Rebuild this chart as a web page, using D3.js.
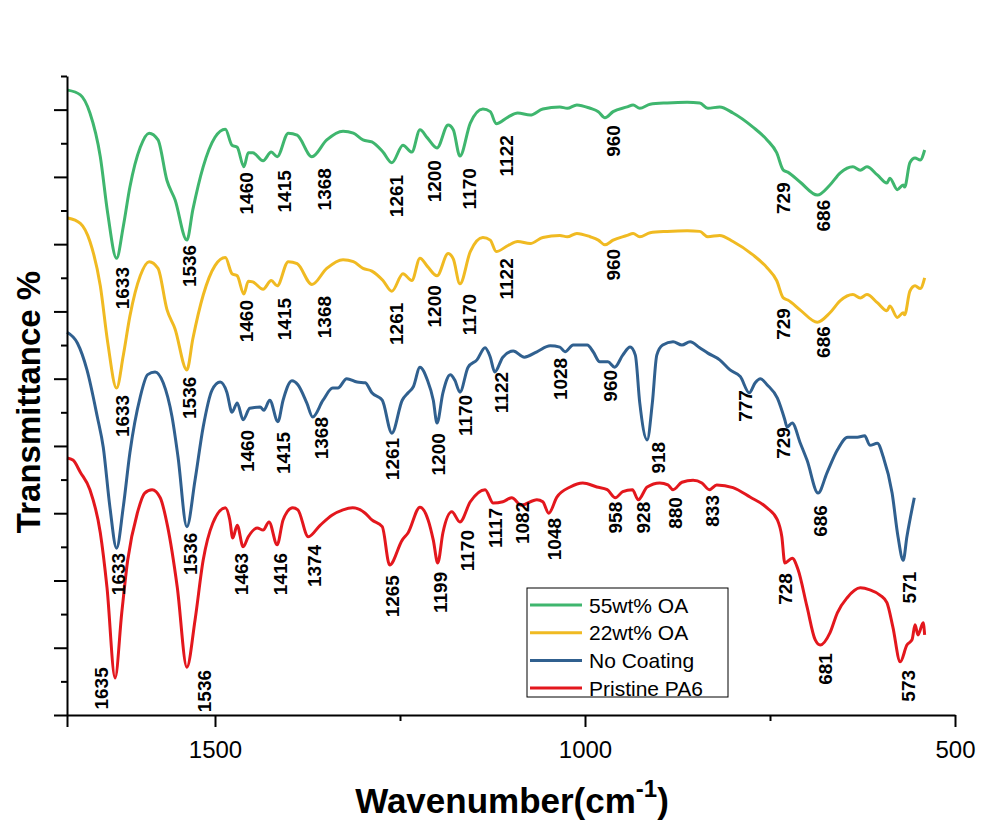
<!DOCTYPE html>
<html>
<head>
<meta charset="utf-8">
<script src="https://cdn.jsdelivr.net/npm/d3@7"></script>
<style>
  body { margin: 0; background: #fff; }
  svg { font-family: "Liberation Sans", Arial, sans-serif; }
  .axis path, .axis line { stroke: #000; stroke-width: 2; }
  .axis text { font-size: 24px; fill: #000; }
  .peak { font-size: 19px; font-weight: bold; fill: #000; }
</style>
</head>
<body>
<script>
var w = 995;
var h = 825;

// legend names + colours
var seriesNames = ["55wt% OA", "22wt% OA", "No Coating", "Pristine PA6"];
var seriesColors = ["#3fb66e", "#f0ba22", "#30608f", "#e3171d"];

// x ticks
var xMajor = [1700, 1500, 1000, 500];
var xMinor = [1250, 750];
var xLabels = ["", "1500", "1000", "500"];

// y ticks (no labels on the original)
var yMajor = [0, 10, 20, 30, 40, 50, 60, 70, 80, 90];
var yMinor = [5, 15, 25, 35, 45, 55, 65, 75, 85, 95];

// spectra: [wavenumber, transmittance]
var oa55 = [[1699,92.9],[1682,92.2],[1669,89.5],[1655,83.0],[1645,74.6],[1633,67.9],[1624,72.6],[1615,78.5],[1601,84.4],[1589,86.5],[1577,85.5],[1565,79.5],[1554,76.6],[1538,70.6],[1530,75.1],[1516,81.5],[1500,85.9],[1486,87.1],[1477,84.7],[1470,84.4],[1461,81.5],[1455,83.6],[1449,83.6],[1435,82.4],[1424,83.7],[1416,83.0],[1401,86.5],[1389,86.2],[1369,83.0],[1349,85.5],[1327,86.8],[1313,86.5],[1300,85.5],[1288,85.2],[1273,83.7],[1261,82.1],[1246,84.7],[1234,83.7],[1223,87.0],[1213,85.8],[1200,84.3],[1185,87.7],[1178,87.0],[1169,83.1],[1155,88.0],[1138,90.1],[1128,89.7],[1120,87.9],[1104,88.9],[1091,89.5],[1074,89.2],[1057,90.1],[1034,90.4],[1024,90.2],[1011,90.7],[993,90.2],[982,89.7],[973,88.8],[962,89.7],[943,90.4],[935,90.7],[926,90.2],[912,90.8],[889,91.0],[862,91.1],[845,91.0],[834,90.2],[818,90.4],[800,89.5],[773,87.4],[754,85.5],[741,83.6],[732,81.0],[726,80.7],[709,79.2],[686,77.3],[669,78.8],[655,80.6],[638,81.5],[628,81.0],[619,81.5],[605,80.3],[592,79.1],[588,79.8],[578,78.1],[570,78.8],[568,78.5],[561,82.1],[554,82.8],[547,82.5],[541,84.0]];

var oa22 = [[1699,73.9],[1682,73.1],[1669,70.4],[1655,63.8],[1645,55.4],[1633,48.6],[1624,53.4],[1615,59.3],[1601,65.3],[1589,67.4],[1577,66.4],[1565,60.3],[1554,57.4],[1538,51.3],[1530,55.9],[1516,62.4],[1500,66.8],[1486,68.0],[1477,65.6],[1470,65.3],[1461,62.6],[1455,64.5],[1449,64.4],[1435,63.3],[1424,64.6],[1416,63.8],[1401,67.4],[1389,67.1],[1369,64.0],[1349,66.4],[1327,67.7],[1313,67.4],[1300,66.4],[1288,66.0],[1273,64.6],[1261,63.0],[1246,65.6],[1234,64.6],[1223,67.9],[1213,66.7],[1200,65.3],[1185,68.6],[1178,67.8],[1169,64.1],[1155,68.9],[1138,71.0],[1128,70.6],[1120,68.9],[1104,69.8],[1091,70.4],[1074,70.1],[1057,71.0],[1034,71.3],[1024,71.1],[1011,71.6],[993,71.1],[982,70.6],[973,69.9],[962,70.6],[943,71.3],[935,71.6],[926,71.1],[912,71.7],[889,71.9],[862,72.0],[845,71.9],[834,71.1],[818,71.3],[800,70.4],[773,68.4],[754,66.5],[741,64.6],[732,62.0],[726,61.7],[709,60.2],[686,58.4],[669,59.8],[655,61.6],[638,62.5],[628,62.0],[619,62.5],[605,61.3],[592,60.1],[588,60.8],[578,59.1],[570,59.8],[568,59.5],[561,63.0],[554,63.8],[547,63.4],[541,65.0]];

var noCoating = [[1700,56.9],[1686,55.3],[1673,51.3],[1659,44.3],[1651,39.8],[1642,30.9],[1633,24.8],[1624,30.9],[1615,39.0],[1601,47.3],[1591,50.6],[1581,51.0],[1570,49.4],[1558,44.3],[1550,38.4],[1538,28.0],[1527,34.9],[1516,42.8],[1504,48.3],[1493,49.5],[1484,48.0],[1477,45.0],[1470,46.4],[1462,43.9],[1453,45.6],[1439,45.8],[1434,45.3],[1426,46.8],[1415,43.6],[1408,46.8],[1396,49.7],[1388,49.1],[1376,46.4],[1368,44.3],[1354,46.8],[1341,48.6],[1334,48.6],[1322,50.0],[1308,49.5],[1297,49.4],[1288,47.9],[1274,46.8],[1261,41.9],[1247,46.8],[1239,47.9],[1232,48.8],[1223,51.7],[1213,49.8],[1205,46.8],[1200,43.4],[1192,47.9],[1182,50.6],[1176,49.8],[1169,48.0],[1158,51.7],[1146,52.8],[1135,54.6],[1128,53.2],[1122,51.0],[1111,53.2],[1097,54.1],[1082,53.2],[1065,54.0],[1047,54.9],[1034,54.7],[1027,54.0],[1016,55.0],[997,55.0],[989,54.0],[980,52.5],[969,52.5],[960,51.7],[949,53.5],[939,54.7],[932,53.5],[926,46.4],[916,40.9],[909,46.4],[903,53.5],[895,55.0],[881,55.5],[869,55.0],[858,55.5],[845,54.6],[834,53.8],[818,52.8],[804,51.3],[790,50.3],[778,47.9],[770,49.4],[763,50.0],[754,49.1],[740,47.1],[730,43.9],[727,42.8],[720,43.4],[709,40.4],[700,37.9],[685,33.0],[673,36.0],[659,39.4],[645,41.3],[632,41.3],[622,41.5],[615,40.1],[605,40.4],[597,38.4],[585,33.0],[577,26.5],[570,23.0],[565,26.5],[555,32.3]];

var pristine = [[1700,38.2],[1692,37.9],[1682,36.1],[1669,33.5],[1655,27.1],[1646,19.0],[1635,5.5],[1626,15.2],[1618,23.0],[1605,30.0],[1595,33.0],[1585,33.5],[1574,32.3],[1564,28.0],[1551,19.0],[1538,7.1],[1527,14.1],[1516,23.0],[1503,28.5],[1486,30.8],[1480,29.0],[1476,26.3],[1470,28.2],[1462,25.0],[1455,26.5],[1443,27.8],[1435,27.5],[1427,28.7],[1416,25.3],[1408,29.0],[1395,30.8],[1388,30.5],[1374,26.5],[1358,28.2],[1342,29.7],[1327,30.5],[1314,30.8],[1297,30.0],[1288,29.0],[1274,28.0],[1264,22.3],[1247,26.0],[1239,27.1],[1223,30.9],[1212,29.0],[1205,26.0],[1199,22.6],[1192,27.1],[1180,30.2],[1169,28.7],[1155,31.7],[1135,33.5],[1124,31.5],[1111,31.7],[1099,32.3],[1086,31.2],[1065,32.0],[1057,31.7],[1049,30.0],[1038,32.4],[1020,33.9],[1003,34.5],[984,33.9],[970,33.5],[959,32.3],[949,33.2],[936,33.5],[928,32.0],[916,33.9],[899,34.5],[888,34.2],[881,33.5],[869,34.6],[854,34.9],[842,34.5],[832,33.5],[822,34.2],[800,33.8],[777,32.4],[754,30.8],[740,29.0],[734,26.5],[730,22.6],[720,23.3],[712,21.6],[700,16.1],[689,11.2],[682,10.4],[669,12.2],[659,15.2],[646,17.4],[628,18.9],[615,18.6],[601,17.8],[592,16.7],[584,13.1],[574,7.9],[565,10.4],[558,11.2],[554,13.4],[550,11.9],[543,13.7],[541,11.9]];

// peak labels: [text, wavenumber, transmittance at top of label]
var oa55Peaks = [["1633",1626,66.6],["1536",1535,69.9],["1460",1458,80.7],["1415",1407,81.0],["1368",1353,81.3],["1261",1255,80.3],["1200",1204,82.5],["1170",1157,81.3],["1122",1107,86.2],["960",962,87.7],["729",732,79.2],["686",678,76.6]];
var oa22Peaks = [["1633",1626,47.6],["1536",1535,50.3],["1460",1458,61.7],["1415",1407,62.0],["1368",1353,62.3],["1261",1255,61.3],["1200",1204,63.9],["1170",1157,62.6],["1122",1107,67.9],["960",962,69.3],["729",732,60.5],["686",678,57.8]];
var noCoatingPeaks = [["1633",1631,24.1],["1536",1534,27.1],["1460",1457,42.4],["1415",1408,42.1],["1368",1357,44.3],["1261",1261,41.2],["1200",1199,41.9],["1170",1162,47.6],["1122",1113,51.0],["1028",1034,53.1],["960",966,51.3],["918",901,40.6],["777",784,48.3],["729",732,42.8],["686",682,31.2],["571",562,21.3]];
var pristinePeaks = [["1635",1654,7.1],["1536",1514,6.7],["1463",1464,24.1],["1416",1412,24.1],["1374",1366,25.3],["1265",1261,20.8],["1199",1196,21.3],["1170",1159,27.5],["1117",1122,30.8],["1082",1085,31.7],["1048",1042,29.3],["958",959,31.7],["928",922,31.7],["880",878,32.4],["833",828,32.7],["728",730,21.1],["681",676,9.2],["573",563,6.7]];

var spectra = [oa55, oa22, noCoating, pristine];
var peaks = [oa55Peaks, oa22Peaks, noCoatingPeaks, pristinePeaks];

var x = d3.scaleLinear()
        .domain([1700, 500])
        .range([67, 955]);

var y = d3.scaleLinear()
        .domain([0, 95])
        .range([715, 76]);

var svg = d3.select("body").append("svg")
            .attr("width", w)
            .attr("height", h);

var line = d3.line()
            .x(function(d) { return x(d[0]); })
            .y(function(d) { return y(d[1]); })
            .curve(d3.curveMonotoneX);

// draw bottom series first so green sits on top
for (var i = spectra.length - 1; i >= 0; i--) {
    svg.append("path")
        .datum(spectra[i])
        .attr("fill", "none")
        .attr("stroke", seriesColors[i])
        .attr("stroke-width", 3)
        .attr("stroke-linejoin", "round")
        .attr("d", line);
}

// rotated peak labels
peaks.forEach(function(list) {
    svg.selectAll(null)
        .data(list)
        .enter().append("text")
        .attr("class", "peak")
        .attr("text-anchor", "end")
        .attr("dy", "0.36em")
        .attr("transform", function(d) { return "translate(" + x(d[1]) + "," + y(d[2]) + ") rotate(-90)"; })
        .text(function(d) { return d[0]; });
});

// x axis
svg.append("g")
    .attr("class", "axis")
    .attr("transform", "translate(0," + y(0) + ")")
    .call(d3.axisBottom(x).tickValues(xMajor).tickSize(12).tickSizeOuter(0).tickPadding(14)
        .tickFormat(function(d, i) { return xLabels[i]; }));

svg.append("g")
    .attr("class", "axis")
    .attr("transform", "translate(0," + y(0) + ")")
    .call(d3.axisBottom(x).tickValues(xMinor).tickSize(6).tickSizeOuter(0).tickFormat(""))
    .select(".domain").remove();

// y axis
svg.append("g")
    .attr("class", "axis")
    .attr("transform", "translate(" + x(1700) + ",0)")
    .call(d3.axisLeft(y).tickValues(yMajor).tickSize(13).tickSizeOuter(0).tickFormat(""));

svg.append("g")
    .attr("class", "axis")
    .attr("transform", "translate(" + x(1700) + ",0)")
    .call(d3.axisLeft(y).tickValues(yMinor).tickSize(6).tickSizeOuter(0).tickFormat(""))
    .select(".domain").remove();

// axis titles
var xt = svg.append("text")
    .attr("x", 512)
    .attr("y", 813)
    .attr("text-anchor", "middle")
    .attr("font-size", "35px")
    .attr("font-weight", "bold")
    .text("Wavenumber(cm");
xt.append("tspan").attr("font-size", "24px").attr("dy", -16).text("-1");
xt.append("tspan").attr("dy", 16).text(")");

svg.append("text")
    .attr("transform", "translate(40,402) rotate(-90)")
    .attr("text-anchor", "middle")
    .attr("font-size", "33px")
    .attr("font-weight", "bold")
    .text("Transmittance %");

// legend - lower middle
var legend = svg.append("g").attr("class", "legend");

legend.append("rect")
    .attr("x", 527)
    .attr("y", 588)
    .attr("width", 201)
    .attr("height", 109)
    .attr("fill", "#fff")
    .attr("stroke", "#000")
    .attr("stroke-width", 1);

var rows = legend.selectAll("g")
    .data(seriesNames)
    .enter().append("g")
    .attr("transform", function(d, i) { return "translate(0," + (605 + i * 27.7) + ")"; });

rows.append("line")
    .attr("x1", 530)
    .attr("x2", 582)
    .attr("stroke", function(d, i) { return seriesColors[i]; })
    .attr("stroke-width", 3);

rows.append("text")
    .attr("x", 589)
    .attr("dy", "0.36em")
    .attr("font-size", "21px")
    .text(function(d) { return d; });
</script>
</body>
</html>
